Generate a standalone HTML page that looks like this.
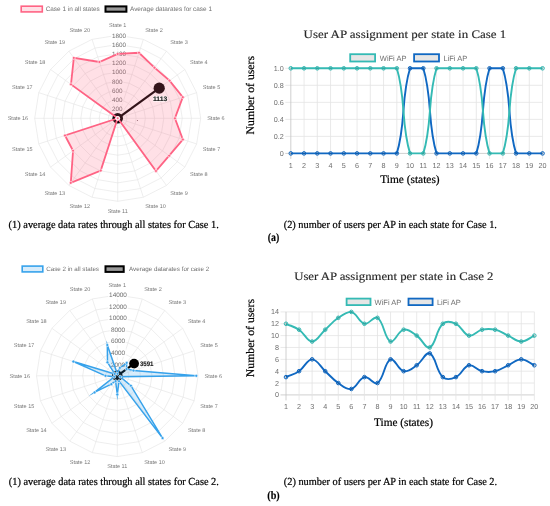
<!DOCTYPE html>
<html><head><meta charset="utf-8"><style>
html,body{margin:0;padding:0;background:#fff;}
body{width:550px;height:506px;overflow:hidden;font-family:"Liberation Sans", sans-serif;}
svg{display:block;will-change:transform;}
</style></head><body>
<svg width="550" height="506" viewBox="0 0 550 506" text-rendering="geometricPrecision">
<rect width="550" height="506" fill="#fff"/>
<polygon points="117.7,109.08 120.55,109.53 123.12,110.84 125.16,112.88 126.47,115.45 126.92,118.3 126.47,121.15 125.16,123.72 123.12,125.76 120.55,127.07 117.7,127.52 114.85,127.07 112.28,125.76 110.24,123.72 108.93,121.15 108.48,118.3 108.93,115.45 110.24,112.88 112.28,110.84 114.85,109.53" fill="none" stroke="#e3e3e3" stroke-width="0.6"/>
<polygon points="117.7,99.86 123.4,100.76 128.54,103.38 132.62,107.46 135.24,112.6 136.14,118.3 135.24,124 132.62,129.14 128.54,133.22 123.4,135.84 117.7,136.74 112,135.84 106.86,133.22 102.78,129.14 100.16,124 99.26,118.3 100.16,112.6 102.78,107.46 106.86,103.38 112,100.76" fill="none" stroke="#e3e3e3" stroke-width="0.6"/>
<polygon points="117.7,90.63 126.25,91.99 133.96,95.92 140.08,102.04 144.01,109.75 145.37,118.3 144.01,126.85 140.08,134.56 133.96,140.68 126.25,144.61 117.7,145.97 109.15,144.61 101.44,140.68 95.32,134.56 91.39,126.85 90.03,118.3 91.39,109.75 95.32,102.04 101.44,95.92 109.15,91.99" fill="none" stroke="#e3e3e3" stroke-width="0.6"/>
<polygon points="117.7,81.41 129.1,83.22 139.38,88.46 147.54,96.62 152.78,106.9 154.59,118.3 152.78,129.7 147.54,139.98 139.38,148.14 129.1,153.38 117.7,155.19 106.3,153.38 96.02,148.14 87.86,139.98 82.62,129.7 80.81,118.3 82.62,106.9 87.86,96.62 96.02,88.46 106.3,83.22" fill="none" stroke="#e3e3e3" stroke-width="0.6"/>
<polygon points="117.7,72.19 131.95,74.45 144.8,81 155,91.2 161.55,104.05 163.81,118.3 161.55,132.55 155,145.4 144.8,155.6 131.95,162.15 117.7,164.41 103.45,162.15 90.6,155.6 80.4,145.4 73.85,132.55 71.59,118.3 73.85,104.05 80.4,91.2 90.6,81 103.45,74.45" fill="none" stroke="#e3e3e3" stroke-width="0.6"/>
<polygon points="117.7,62.97 134.8,65.67 150.22,73.53 162.47,85.78 170.33,101.2 173.03,118.3 170.33,135.4 162.47,150.82 150.22,163.07 134.8,170.93 117.7,173.63 100.6,170.93 85.18,163.07 72.93,150.82 65.07,135.4 62.37,118.3 65.07,101.2 72.93,85.78 85.18,73.53 100.6,65.67" fill="none" stroke="#e3e3e3" stroke-width="0.6"/>
<polygon points="117.7,53.74 137.65,56.9 155.64,66.07 169.93,80.36 179.1,98.35 182.26,118.3 179.1,138.25 169.93,156.24 155.64,170.53 137.65,179.7 117.7,182.86 97.75,179.7 79.76,170.53 65.47,156.24 56.3,138.25 53.14,118.3 56.3,98.35 65.47,80.36 79.76,66.07 97.75,56.9" fill="none" stroke="#e3e3e3" stroke-width="0.6"/>
<polygon points="117.7,44.52 140.5,48.13 161.07,58.61 177.39,74.93 187.87,95.5 191.48,118.3 187.87,141.1 177.39,161.67 161.07,177.99 140.5,188.47 117.7,192.08 94.9,188.47 74.33,177.99 58.01,161.67 47.53,141.1 43.92,118.3 47.53,95.5 58.01,74.93 74.33,58.61 94.9,48.13" fill="none" stroke="#e3e3e3" stroke-width="0.6"/>
<polygon points="117.7,35.3 143.35,39.36 166.49,51.15 184.85,69.51 196.64,92.65 200.7,118.3 196.64,143.95 184.85,167.09 166.49,185.45 143.35,197.24 117.7,201.3 92.05,197.24 68.91,185.45 50.55,167.09 38.76,143.95 34.7,118.3 38.76,92.65 50.55,69.51 68.91,51.15 92.05,39.36" fill="none" stroke="#e3e3e3" stroke-width="0.6"/>
<line x1="117.7" y1="118.3" x2="117.7" y2="35.3" stroke="#e3e3e3" stroke-width="0.6"/>
<line x1="117.7" y1="118.3" x2="143.35" y2="39.36" stroke="#e3e3e3" stroke-width="0.6"/>
<line x1="117.7" y1="118.3" x2="166.49" y2="51.15" stroke="#e3e3e3" stroke-width="0.6"/>
<line x1="117.7" y1="118.3" x2="184.85" y2="69.51" stroke="#e3e3e3" stroke-width="0.6"/>
<line x1="117.7" y1="118.3" x2="196.64" y2="92.65" stroke="#e3e3e3" stroke-width="0.6"/>
<line x1="117.7" y1="118.3" x2="200.7" y2="118.3" stroke="#e3e3e3" stroke-width="0.6"/>
<line x1="117.7" y1="118.3" x2="196.64" y2="143.95" stroke="#e3e3e3" stroke-width="0.6"/>
<line x1="117.7" y1="118.3" x2="184.85" y2="167.09" stroke="#e3e3e3" stroke-width="0.6"/>
<line x1="117.7" y1="118.3" x2="166.49" y2="185.45" stroke="#e3e3e3" stroke-width="0.6"/>
<line x1="117.7" y1="118.3" x2="143.35" y2="197.24" stroke="#e3e3e3" stroke-width="0.6"/>
<line x1="117.7" y1="118.3" x2="117.7" y2="201.3" stroke="#e3e3e3" stroke-width="0.6"/>
<line x1="117.7" y1="118.3" x2="92.05" y2="197.24" stroke="#e3e3e3" stroke-width="0.6"/>
<line x1="117.7" y1="118.3" x2="68.91" y2="185.45" stroke="#e3e3e3" stroke-width="0.6"/>
<line x1="117.7" y1="118.3" x2="50.55" y2="167.09" stroke="#e3e3e3" stroke-width="0.6"/>
<line x1="117.7" y1="118.3" x2="38.76" y2="143.95" stroke="#e3e3e3" stroke-width="0.6"/>
<line x1="117.7" y1="118.3" x2="34.7" y2="118.3" stroke="#e3e3e3" stroke-width="0.6"/>
<line x1="117.7" y1="118.3" x2="38.76" y2="92.65" stroke="#e3e3e3" stroke-width="0.6"/>
<line x1="117.7" y1="118.3" x2="50.55" y2="69.51" stroke="#e3e3e3" stroke-width="0.6"/>
<line x1="117.7" y1="118.3" x2="68.91" y2="51.15" stroke="#e3e3e3" stroke-width="0.6"/>
<line x1="117.7" y1="118.3" x2="92.05" y2="39.36" stroke="#e3e3e3" stroke-width="0.6"/>
<rect x="110.8" y="104.8" width="12.79" height="8.55" fill="rgba(255,255,255,0.75)"/>
<text x="111.9" y="111.36" font-size="6.35" fill="#707070" text-anchor="start" font-family='"Liberation Sans", sans-serif' font-weight="normal">200</text>
<rect x="110.8" y="95.58" width="12.79" height="8.55" fill="rgba(255,255,255,0.75)"/>
<text x="111.9" y="102.14" font-size="6.35" fill="#707070" text-anchor="start" font-family='"Liberation Sans", sans-serif' font-weight="normal">400</text>
<rect x="110.8" y="86.36" width="12.79" height="8.55" fill="rgba(255,255,255,0.75)"/>
<text x="111.9" y="92.92" font-size="6.35" fill="#707070" text-anchor="start" font-family='"Liberation Sans", sans-serif' font-weight="normal">600</text>
<rect x="110.8" y="77.14" width="12.79" height="8.55" fill="rgba(255,255,255,0.75)"/>
<text x="111.9" y="83.7" font-size="6.35" fill="#707070" text-anchor="start" font-family='"Liberation Sans", sans-serif' font-weight="normal">800</text>
<rect x="110.8" y="67.91" width="16.32" height="8.55" fill="rgba(255,255,255,0.75)"/>
<text x="111.9" y="74.47" font-size="6.35" fill="#707070" text-anchor="start" font-family='"Liberation Sans", sans-serif' font-weight="normal">1000</text>
<rect x="110.8" y="58.69" width="16.32" height="8.55" fill="rgba(255,255,255,0.75)"/>
<text x="111.9" y="65.25" font-size="6.35" fill="#707070" text-anchor="start" font-family='"Liberation Sans", sans-serif' font-weight="normal">1200</text>
<rect x="110.8" y="49.47" width="16.32" height="8.55" fill="rgba(255,255,255,0.75)"/>
<text x="111.9" y="56.03" font-size="6.35" fill="#707070" text-anchor="start" font-family='"Liberation Sans", sans-serif' font-weight="normal">1400</text>
<rect x="110.8" y="40.25" width="16.32" height="8.55" fill="rgba(255,255,255,0.75)"/>
<text x="111.9" y="46.81" font-size="6.35" fill="#707070" text-anchor="start" font-family='"Liberation Sans", sans-serif' font-weight="normal">1600</text>
<rect x="110.8" y="31.02" width="16.32" height="8.55" fill="rgba(255,255,255,0.75)"/>
<text x="111.9" y="37.59" font-size="6.35" fill="#707070" text-anchor="start" font-family='"Liberation Sans", sans-serif' font-weight="normal">1800</text>
<text x="117.7" y="27.48" font-size="5.5" fill="#777" text-anchor="middle" font-family='"Liberation Sans", sans-serif' font-weight="normal">State 1</text>
<text x="145.36" y="31.76" font-size="5.5" fill="#777" text-anchor="start" font-family='"Liberation Sans", sans-serif' font-weight="normal">State 2</text>
<text x="170.31" y="44.47" font-size="5.5" fill="#777" text-anchor="start" font-family='"Liberation Sans", sans-serif' font-weight="normal">State 3</text>
<text x="190.11" y="64.27" font-size="5.5" fill="#777" text-anchor="start" font-family='"Liberation Sans", sans-serif' font-weight="normal">State 4</text>
<text x="202.82" y="89.22" font-size="5.5" fill="#777" text-anchor="start" font-family='"Liberation Sans", sans-serif' font-weight="normal">State 5</text>
<text x="207.2" y="120.28" font-size="5.5" fill="#777" text-anchor="start" font-family='"Liberation Sans", sans-serif' font-weight="normal">State 6</text>
<text x="202.82" y="150.74" font-size="5.5" fill="#777" text-anchor="start" font-family='"Liberation Sans", sans-serif' font-weight="normal">State 7</text>
<text x="190.11" y="175.69" font-size="5.5" fill="#777" text-anchor="start" font-family='"Liberation Sans", sans-serif' font-weight="normal">State 8</text>
<text x="170.31" y="195.49" font-size="5.5" fill="#777" text-anchor="start" font-family='"Liberation Sans", sans-serif' font-weight="normal">State 9</text>
<text x="145.36" y="208.2" font-size="5.5" fill="#777" text-anchor="start" font-family='"Liberation Sans", sans-serif' font-weight="normal">State 10</text>
<text x="117.7" y="212.58" font-size="5.5" fill="#777" text-anchor="middle" font-family='"Liberation Sans", sans-serif' font-weight="normal">State 11</text>
<text x="90.04" y="208.2" font-size="5.5" fill="#777" text-anchor="end" font-family='"Liberation Sans", sans-serif' font-weight="normal">State 12</text>
<text x="65.09" y="195.49" font-size="5.5" fill="#777" text-anchor="end" font-family='"Liberation Sans", sans-serif' font-weight="normal">State 13</text>
<text x="45.29" y="175.69" font-size="5.5" fill="#777" text-anchor="end" font-family='"Liberation Sans", sans-serif' font-weight="normal">State 14</text>
<text x="32.58" y="150.74" font-size="5.5" fill="#777" text-anchor="end" font-family='"Liberation Sans", sans-serif' font-weight="normal">State 15</text>
<text x="28.2" y="120.28" font-size="5.5" fill="#777" text-anchor="end" font-family='"Liberation Sans", sans-serif' font-weight="normal">State 16</text>
<text x="32.58" y="89.22" font-size="5.5" fill="#777" text-anchor="end" font-family='"Liberation Sans", sans-serif' font-weight="normal">State 17</text>
<text x="45.29" y="64.27" font-size="5.5" fill="#777" text-anchor="end" font-family='"Liberation Sans", sans-serif' font-weight="normal">State 18</text>
<text x="65.09" y="44.47" font-size="5.5" fill="#777" text-anchor="end" font-family='"Liberation Sans", sans-serif' font-weight="normal">State 19</text>
<text x="90.04" y="31.76" font-size="5.5" fill="#777" text-anchor="end" font-family='"Liberation Sans", sans-serif' font-weight="normal">State 20</text>
<line x1="117.7" y1="118.3" x2="159.22" y2="88.13" stroke="#000" stroke-width="2.2"/>
<circle cx="117.7" cy="118.3" r="5.3" fill="#000"/>
<circle cx="159.22" cy="88.13" r="5.6" fill="#000"/>
<polygon points="117.7,53.97 138.99,52.78 154.48,67.68 169.55,80.63 182.82,97.14 174.92,118.3 182.87,139.47 169.14,155.68 155.97,170.97 117.7,118.3 117.7,118.3 100.73,170.53 70.78,182.87 73.05,150.74 64.99,135.43 117.7,118.3 117.7,118.3 70.99,84.37 73.82,57.9 99.4,61.99" fill="rgba(255,99,132,0.2)" stroke="rgb(255,99,132)" stroke-width="1.8" stroke-linejoin="miter" stroke-miterlimit="10"/>
<circle cx="117.7" cy="53.97" r="1.5" fill="rgb(255,99,132)" stroke="#fff" stroke-width="0.6"/>
<circle cx="138.99" cy="52.78" r="1.5" fill="rgb(255,99,132)" stroke="#fff" stroke-width="0.6"/>
<circle cx="154.48" cy="67.68" r="1.5" fill="rgb(255,99,132)" stroke="#fff" stroke-width="0.6"/>
<circle cx="169.55" cy="80.63" r="1.5" fill="rgb(255,99,132)" stroke="#fff" stroke-width="0.6"/>
<circle cx="182.82" cy="97.14" r="1.5" fill="rgb(255,99,132)" stroke="#fff" stroke-width="0.6"/>
<circle cx="174.92" cy="118.3" r="1.5" fill="rgb(255,99,132)" stroke="#fff" stroke-width="0.6"/>
<circle cx="182.87" cy="139.47" r="1.5" fill="rgb(255,99,132)" stroke="#fff" stroke-width="0.6"/>
<circle cx="169.14" cy="155.68" r="1.5" fill="rgb(255,99,132)" stroke="#fff" stroke-width="0.6"/>
<circle cx="155.97" cy="170.97" r="1.5" fill="rgb(255,99,132)" stroke="#fff" stroke-width="0.6"/>
<circle cx="117.7" cy="118.3" r="1.5" fill="rgb(255,99,132)" stroke="#fff" stroke-width="0.6"/>
<circle cx="117.7" cy="118.3" r="1.5" fill="rgb(255,99,132)" stroke="#fff" stroke-width="0.6"/>
<circle cx="100.73" cy="170.53" r="1.5" fill="rgb(255,99,132)" stroke="#fff" stroke-width="0.6"/>
<circle cx="70.78" cy="182.87" r="1.5" fill="rgb(255,99,132)" stroke="#fff" stroke-width="0.6"/>
<circle cx="73.05" cy="150.74" r="1.5" fill="rgb(255,99,132)" stroke="#fff" stroke-width="0.6"/>
<circle cx="64.99" cy="135.43" r="1.5" fill="rgb(255,99,132)" stroke="#fff" stroke-width="0.6"/>
<circle cx="117.7" cy="118.3" r="1.5" fill="rgb(255,99,132)" stroke="#fff" stroke-width="0.6"/>
<circle cx="117.7" cy="118.3" r="1.5" fill="rgb(255,99,132)" stroke="#fff" stroke-width="0.6"/>
<circle cx="70.99" cy="84.37" r="1.5" fill="rgb(255,99,132)" stroke="#fff" stroke-width="0.6"/>
<circle cx="73.82" cy="57.9" r="1.5" fill="rgb(255,99,132)" stroke="#fff" stroke-width="0.6"/>
<circle cx="99.4" cy="61.99" r="1.5" fill="rgb(255,99,132)" stroke="#fff" stroke-width="0.6"/>
<circle cx="117.7" cy="118.3" r="2.4" fill="#fff0f3"/>
<circle cx="117.7" cy="118.3" r="1" fill="rgb(255,99,132)"/>
<text x="160.2" y="100.7" font-size="6.6" fill="rgba(255,255,255,0.8)" text-anchor="middle" font-family='"Liberation Sans", sans-serif' font-weight="bold" textLength="14.5" lengthAdjust="spacingAndGlyphs" stroke="rgba(255,255,255,0.8)" stroke-width="1">1113</text>
<text x="160.2" y="100.7" font-size="6.6" fill="#222" text-anchor="middle" font-family='"Liberation Sans", sans-serif' font-weight="bold" textLength="14.5" lengthAdjust="spacingAndGlyphs" stroke="#222" stroke-width="0.15">1113</text>
<rect x="21.2" y="6.2" width="21.1" height="5.7" fill="rgba(255,99,132,0.2)" stroke="rgb(255,99,132)" stroke-width="1.6"/>
<text x="45.7" y="11.35" font-size="6.4" fill="#707070" text-anchor="start" font-family='"Liberation Sans", sans-serif' font-weight="normal">Case 1 in all states</text>
<rect x="105.5" y="6.4" width="20.9" height="5.3" fill="#999" stroke="#000" stroke-width="2"/>
<text x="130" y="11.35" font-size="6.4" fill="#707070" text-anchor="start" font-family='"Liberation Sans", sans-serif' font-weight="normal">Average datarates for case 1</text>
<polygon points="117.3,364.26 120.87,364.82 124.08,366.46 126.64,369.02 128.28,372.23 128.84,375.8 128.28,379.37 126.64,382.58 124.08,385.14 120.87,386.78 117.3,387.34 113.73,386.78 110.52,385.14 107.96,382.58 106.32,379.37 105.76,375.8 106.32,372.23 107.96,369.02 110.52,366.46 113.73,364.82" fill="none" stroke="#e3e3e3" stroke-width="0.6"/>
<polygon points="117.3,352.71 124.43,353.84 130.87,357.12 135.98,362.23 139.26,368.67 140.39,375.8 139.26,382.93 135.98,389.37 130.87,394.48 124.43,397.76 117.3,398.89 110.17,397.76 103.73,394.48 98.62,389.37 95.34,382.93 94.21,375.8 95.34,368.67 98.62,362.23 103.73,357.12 110.17,353.84" fill="none" stroke="#e3e3e3" stroke-width="0.6"/>
<polygon points="117.3,341.17 128,342.87 137.65,347.78 145.32,355.45 150.23,365.1 151.93,375.8 150.23,386.5 145.32,396.15 137.65,403.82 128,408.73 117.3,410.43 106.6,408.73 96.95,403.82 89.28,396.15 84.37,386.5 82.67,375.8 84.37,365.1 89.28,355.45 96.95,347.78 106.6,342.87" fill="none" stroke="#e3e3e3" stroke-width="0.6"/>
<polygon points="117.3,329.63 131.57,331.89 144.44,338.45 154.65,348.66 161.21,361.53 163.47,375.8 161.21,390.07 154.65,402.94 144.44,413.15 131.57,419.71 117.3,421.97 103.03,419.71 90.16,413.15 79.95,402.94 73.39,390.07 71.13,375.8 73.39,361.53 79.95,348.66 90.16,338.45 103.03,331.89" fill="none" stroke="#e3e3e3" stroke-width="0.6"/>
<polygon points="117.3,318.09 135.13,320.91 151.22,329.11 163.99,341.88 172.19,357.97 175.01,375.8 172.19,393.63 163.99,409.72 151.22,422.49 135.13,430.69 117.3,433.51 99.47,430.69 83.38,422.49 70.61,409.72 62.41,393.63 59.59,375.8 62.41,357.97 70.61,341.88 83.38,329.11 99.47,320.91" fill="none" stroke="#e3e3e3" stroke-width="0.6"/>
<polygon points="117.3,306.54 138.7,309.93 158.01,319.77 173.33,335.09 183.17,354.4 186.56,375.8 183.17,397.2 173.33,416.51 158.01,431.83 138.7,441.67 117.3,445.06 95.9,441.67 76.59,431.83 61.27,416.51 51.43,397.2 48.04,375.8 51.43,354.4 61.27,335.09 76.59,319.77 95.9,309.93" fill="none" stroke="#e3e3e3" stroke-width="0.6"/>
<polygon points="117.3,295 142.27,298.95 164.79,310.43 182.67,328.31 194.15,350.83 198.1,375.8 194.15,400.77 182.67,423.29 164.79,441.17 142.27,452.65 117.3,456.6 92.33,452.65 69.81,441.17 51.93,423.29 40.45,400.77 36.5,375.8 40.45,350.83 51.93,328.31 69.81,310.43 92.33,298.95" fill="none" stroke="#e3e3e3" stroke-width="0.6"/>
<line x1="117.3" y1="375.8" x2="117.3" y2="295" stroke="#e3e3e3" stroke-width="0.6"/>
<line x1="117.3" y1="375.8" x2="142.27" y2="298.95" stroke="#e3e3e3" stroke-width="0.6"/>
<line x1="117.3" y1="375.8" x2="164.79" y2="310.43" stroke="#e3e3e3" stroke-width="0.6"/>
<line x1="117.3" y1="375.8" x2="182.67" y2="328.31" stroke="#e3e3e3" stroke-width="0.6"/>
<line x1="117.3" y1="375.8" x2="194.15" y2="350.83" stroke="#e3e3e3" stroke-width="0.6"/>
<line x1="117.3" y1="375.8" x2="198.1" y2="375.8" stroke="#e3e3e3" stroke-width="0.6"/>
<line x1="117.3" y1="375.8" x2="194.15" y2="400.77" stroke="#e3e3e3" stroke-width="0.6"/>
<line x1="117.3" y1="375.8" x2="182.67" y2="423.29" stroke="#e3e3e3" stroke-width="0.6"/>
<line x1="117.3" y1="375.8" x2="164.79" y2="441.17" stroke="#e3e3e3" stroke-width="0.6"/>
<line x1="117.3" y1="375.8" x2="142.27" y2="452.65" stroke="#e3e3e3" stroke-width="0.6"/>
<line x1="117.3" y1="375.8" x2="117.3" y2="456.6" stroke="#e3e3e3" stroke-width="0.6"/>
<line x1="117.3" y1="375.8" x2="92.33" y2="452.65" stroke="#e3e3e3" stroke-width="0.6"/>
<line x1="117.3" y1="375.8" x2="69.81" y2="441.17" stroke="#e3e3e3" stroke-width="0.6"/>
<line x1="117.3" y1="375.8" x2="51.93" y2="423.29" stroke="#e3e3e3" stroke-width="0.6"/>
<line x1="117.3" y1="375.8" x2="40.45" y2="400.77" stroke="#e3e3e3" stroke-width="0.6"/>
<line x1="117.3" y1="375.8" x2="36.5" y2="375.8" stroke="#e3e3e3" stroke-width="0.6"/>
<line x1="117.3" y1="375.8" x2="40.45" y2="350.83" stroke="#e3e3e3" stroke-width="0.6"/>
<line x1="117.3" y1="375.8" x2="51.93" y2="328.31" stroke="#e3e3e3" stroke-width="0.6"/>
<line x1="117.3" y1="375.8" x2="69.81" y2="310.43" stroke="#e3e3e3" stroke-width="0.6"/>
<line x1="117.3" y1="375.8" x2="92.33" y2="298.95" stroke="#e3e3e3" stroke-width="0.6"/>
<rect x="109.78" y="359.96" width="16.43" height="8.6" fill="rgba(255,255,255,0.75)"/>
<text x="118" y="366.56" font-size="6.4" fill="#707070" text-anchor="middle" font-family='"Liberation Sans", sans-serif' font-weight="normal">2000</text>
<rect x="109.78" y="348.41" width="16.43" height="8.6" fill="rgba(255,255,255,0.75)"/>
<text x="118" y="355.02" font-size="6.4" fill="#707070" text-anchor="middle" font-family='"Liberation Sans", sans-serif' font-weight="normal">4000</text>
<rect x="109.78" y="336.87" width="16.43" height="8.6" fill="rgba(255,255,255,0.75)"/>
<text x="118" y="343.48" font-size="6.4" fill="#707070" text-anchor="middle" font-family='"Liberation Sans", sans-serif' font-weight="normal">6000</text>
<rect x="109.78" y="325.33" width="16.43" height="8.6" fill="rgba(255,255,255,0.75)"/>
<text x="118" y="331.93" font-size="6.4" fill="#707070" text-anchor="middle" font-family='"Liberation Sans", sans-serif' font-weight="normal">8000</text>
<rect x="108" y="313.79" width="19.99" height="8.6" fill="rgba(255,255,255,0.75)"/>
<text x="118" y="320.39" font-size="6.4" fill="#707070" text-anchor="middle" font-family='"Liberation Sans", sans-serif' font-weight="normal">10000</text>
<rect x="108" y="302.24" width="19.99" height="8.6" fill="rgba(255,255,255,0.75)"/>
<text x="118" y="308.85" font-size="6.4" fill="#707070" text-anchor="middle" font-family='"Liberation Sans", sans-serif' font-weight="normal">12000</text>
<rect x="108" y="290.7" width="19.99" height="8.6" fill="rgba(255,255,255,0.75)"/>
<text x="118" y="297.3" font-size="6.4" fill="#707070" text-anchor="middle" font-family='"Liberation Sans", sans-serif' font-weight="normal">14000</text>
<text x="117.3" y="287.18" font-size="5.5" fill="#777" text-anchor="middle" font-family='"Liberation Sans", sans-serif' font-weight="normal">State 1</text>
<text x="144.28" y="291.35" font-size="5.5" fill="#777" text-anchor="start" font-family='"Liberation Sans", sans-serif' font-weight="normal">State 2</text>
<text x="168.61" y="303.75" font-size="5.5" fill="#777" text-anchor="start" font-family='"Liberation Sans", sans-serif' font-weight="normal">State 3</text>
<text x="187.93" y="323.07" font-size="5.5" fill="#777" text-anchor="start" font-family='"Liberation Sans", sans-serif' font-weight="normal">State 4</text>
<text x="200.33" y="347.4" font-size="5.5" fill="#777" text-anchor="start" font-family='"Liberation Sans", sans-serif' font-weight="normal">State 5</text>
<text x="204.6" y="377.78" font-size="5.5" fill="#777" text-anchor="start" font-family='"Liberation Sans", sans-serif' font-weight="normal">State 6</text>
<text x="200.33" y="407.56" font-size="5.5" fill="#777" text-anchor="start" font-family='"Liberation Sans", sans-serif' font-weight="normal">State 7</text>
<text x="187.93" y="431.89" font-size="5.5" fill="#777" text-anchor="start" font-family='"Liberation Sans", sans-serif' font-weight="normal">State 8</text>
<text x="168.61" y="451.21" font-size="5.5" fill="#777" text-anchor="start" font-family='"Liberation Sans", sans-serif' font-weight="normal">State 9</text>
<text x="144.28" y="463.61" font-size="5.5" fill="#777" text-anchor="start" font-family='"Liberation Sans", sans-serif' font-weight="normal">State 10</text>
<text x="117.3" y="467.88" font-size="5.5" fill="#777" text-anchor="middle" font-family='"Liberation Sans", sans-serif' font-weight="normal">State 11</text>
<text x="90.32" y="463.61" font-size="5.5" fill="#777" text-anchor="end" font-family='"Liberation Sans", sans-serif' font-weight="normal">State 12</text>
<text x="65.99" y="451.21" font-size="5.5" fill="#777" text-anchor="end" font-family='"Liberation Sans", sans-serif' font-weight="normal">State 13</text>
<text x="46.67" y="431.89" font-size="5.5" fill="#777" text-anchor="end" font-family='"Liberation Sans", sans-serif' font-weight="normal">State 14</text>
<text x="34.27" y="407.56" font-size="5.5" fill="#777" text-anchor="end" font-family='"Liberation Sans", sans-serif' font-weight="normal">State 15</text>
<text x="30" y="377.78" font-size="5.5" fill="#777" text-anchor="end" font-family='"Liberation Sans", sans-serif' font-weight="normal">State 16</text>
<text x="34.27" y="347.4" font-size="5.5" fill="#777" text-anchor="end" font-family='"Liberation Sans", sans-serif' font-weight="normal">State 17</text>
<text x="46.67" y="323.07" font-size="5.5" fill="#777" text-anchor="end" font-family='"Liberation Sans", sans-serif' font-weight="normal">State 18</text>
<text x="65.99" y="303.75" font-size="5.5" fill="#777" text-anchor="end" font-family='"Liberation Sans", sans-serif' font-weight="normal">State 19</text>
<text x="90.32" y="291.35" font-size="5.5" fill="#777" text-anchor="end" font-family='"Liberation Sans", sans-serif' font-weight="normal">State 20</text>
<line x1="117.3" y1="375.8" x2="134.07" y2="363.62" stroke="#000" stroke-width="2.2"/>
<circle cx="117.3" cy="375.8" r="5.3" fill="#000"/>
<circle cx="134.07" cy="363.62" r="4.9" fill="#000"/>
<polygon points="117.3,373.8 119.86,367.91 126.7,362.86 126.6,369.04 133.47,370.55 196.3,375.8 120.25,376.76 130.89,385.67 162.56,438.09 119.03,381.13 117.3,394.5 115.57,381.13 111.25,384.13 94.49,392.38 114.26,376.79 105.5,375.8 73.36,361.52 114.71,373.92 107.48,362.29 107.29,344.99" fill="rgba(54,162,235,0.2)" stroke="rgb(54,162,235)" stroke-width="1.45" stroke-linejoin="miter" stroke-miterlimit="10"/>
<circle cx="117.3" cy="373.8" r="1.5" fill="rgb(54,162,235)" stroke="#fff" stroke-width="0.6"/>
<circle cx="119.86" cy="367.91" r="1.5" fill="rgb(54,162,235)" stroke="#fff" stroke-width="0.6"/>
<circle cx="126.7" cy="362.86" r="1.5" fill="rgb(54,162,235)" stroke="#fff" stroke-width="0.6"/>
<circle cx="126.6" cy="369.04" r="1.5" fill="rgb(54,162,235)" stroke="#fff" stroke-width="0.6"/>
<circle cx="133.47" cy="370.55" r="1.5" fill="rgb(54,162,235)" stroke="#fff" stroke-width="0.6"/>
<circle cx="196.3" cy="375.8" r="1.5" fill="rgb(54,162,235)" stroke="#fff" stroke-width="0.6"/>
<circle cx="120.25" cy="376.76" r="1.5" fill="rgb(54,162,235)" stroke="#fff" stroke-width="0.6"/>
<circle cx="130.89" cy="385.67" r="1.5" fill="rgb(54,162,235)" stroke="#fff" stroke-width="0.6"/>
<circle cx="162.56" cy="438.09" r="1.5" fill="rgb(54,162,235)" stroke="#fff" stroke-width="0.6"/>
<circle cx="119.03" cy="381.13" r="1.5" fill="rgb(54,162,235)" stroke="#fff" stroke-width="0.6"/>
<circle cx="117.3" cy="394.5" r="1.5" fill="rgb(54,162,235)" stroke="#fff" stroke-width="0.6"/>
<circle cx="115.57" cy="381.13" r="1.5" fill="rgb(54,162,235)" stroke="#fff" stroke-width="0.6"/>
<circle cx="111.25" cy="384.13" r="1.5" fill="rgb(54,162,235)" stroke="#fff" stroke-width="0.6"/>
<circle cx="94.49" cy="392.38" r="1.5" fill="rgb(54,162,235)" stroke="#fff" stroke-width="0.6"/>
<circle cx="114.26" cy="376.79" r="1.5" fill="rgb(54,162,235)" stroke="#fff" stroke-width="0.6"/>
<circle cx="105.5" cy="375.8" r="1.5" fill="rgb(54,162,235)" stroke="#fff" stroke-width="0.6"/>
<circle cx="73.36" cy="361.52" r="1.5" fill="rgb(54,162,235)" stroke="#fff" stroke-width="0.6"/>
<circle cx="114.71" cy="373.92" r="1.5" fill="rgb(54,162,235)" stroke="#fff" stroke-width="0.6"/>
<circle cx="107.48" cy="362.29" r="1.5" fill="rgb(54,162,235)" stroke="#fff" stroke-width="0.6"/>
<circle cx="107.29" cy="344.99" r="1.5" fill="rgb(54,162,235)" stroke="#fff" stroke-width="0.6"/>
<text x="139.9" y="366.1" font-size="6.6" fill="rgba(255,255,255,0.8)" text-anchor="start" font-family='"Liberation Sans", sans-serif' font-weight="bold" textLength="13.5" lengthAdjust="spacingAndGlyphs" stroke="rgba(255,255,255,0.8)" stroke-width="1">3591</text>
<text x="139.9" y="366.1" font-size="6.6" fill="#222" text-anchor="start" font-family='"Liberation Sans", sans-serif' font-weight="bold" textLength="13.5" lengthAdjust="spacingAndGlyphs" stroke="#222" stroke-width="0.15">3591</text>
<rect x="22.2" y="266.1" width="20.6" height="5.8" fill="rgba(54,162,235,0.2)" stroke="rgb(54,162,235)" stroke-width="1.6"/>
<text x="46.2" y="271.25" font-size="6.25" fill="#707070" text-anchor="start" font-family='"Liberation Sans", sans-serif' font-weight="normal">Case 2 in all states</text>
<rect x="105.5" y="266.3" width="18.2" height="5.6" fill="#999" stroke="#000" stroke-width="2"/>
<text x="129" y="271.35" font-size="6.25" fill="#707070" text-anchor="start" font-family='"Liberation Sans", sans-serif' font-weight="normal">Average datarates for case 2</text>
<line x1="285.3" y1="153.4" x2="542.55" y2="153.4" stroke="#c4c4c4" stroke-width="0.8"/>
<text x="283.8" y="155.99" font-size="7.2" fill="#707070" text-anchor="end" font-family='"Liberation Sans", sans-serif' font-weight="normal">0</text>
<line x1="285.3" y1="136.38" x2="542.55" y2="136.38" stroke="#e3e3e3" stroke-width="0.8"/>
<text x="283.8" y="138.97" font-size="7.2" fill="#707070" text-anchor="end" font-family='"Liberation Sans", sans-serif' font-weight="normal">0.2</text>
<line x1="285.3" y1="119.36" x2="542.55" y2="119.36" stroke="#e3e3e3" stroke-width="0.8"/>
<text x="283.8" y="121.95" font-size="7.2" fill="#707070" text-anchor="end" font-family='"Liberation Sans", sans-serif' font-weight="normal">0.4</text>
<line x1="285.3" y1="102.34" x2="542.55" y2="102.34" stroke="#e3e3e3" stroke-width="0.8"/>
<text x="283.8" y="104.93" font-size="7.2" fill="#707070" text-anchor="end" font-family='"Liberation Sans", sans-serif' font-weight="normal">0.6</text>
<line x1="285.3" y1="85.32" x2="542.55" y2="85.32" stroke="#e3e3e3" stroke-width="0.8"/>
<text x="283.8" y="87.91" font-size="7.2" fill="#707070" text-anchor="end" font-family='"Liberation Sans", sans-serif' font-weight="normal">0.8</text>
<line x1="285.3" y1="68.3" x2="542.55" y2="68.3" stroke="#e3e3e3" stroke-width="0.8"/>
<text x="283.8" y="70.89" font-size="7.2" fill="#707070" text-anchor="end" font-family='"Liberation Sans", sans-serif' font-weight="normal">1.0</text>
<line x1="290.8" y1="68.3" x2="290.8" y2="158.9" stroke="#c4c4c4" stroke-width="0.8"/>
<text x="290.8" y="167.89" font-size="7.2" fill="#707070" text-anchor="middle" font-family='"Liberation Sans", sans-serif' font-weight="normal">1</text>
<line x1="304.05" y1="68.3" x2="304.05" y2="158.9" stroke="#e3e3e3" stroke-width="0.8"/>
<text x="304.05" y="167.89" font-size="7.2" fill="#707070" text-anchor="middle" font-family='"Liberation Sans", sans-serif' font-weight="normal">2</text>
<line x1="317.3" y1="68.3" x2="317.3" y2="158.9" stroke="#e3e3e3" stroke-width="0.8"/>
<text x="317.3" y="167.89" font-size="7.2" fill="#707070" text-anchor="middle" font-family='"Liberation Sans", sans-serif' font-weight="normal">3</text>
<line x1="330.55" y1="68.3" x2="330.55" y2="158.9" stroke="#e3e3e3" stroke-width="0.8"/>
<text x="330.55" y="167.89" font-size="7.2" fill="#707070" text-anchor="middle" font-family='"Liberation Sans", sans-serif' font-weight="normal">4</text>
<line x1="343.8" y1="68.3" x2="343.8" y2="158.9" stroke="#e3e3e3" stroke-width="0.8"/>
<text x="343.8" y="167.89" font-size="7.2" fill="#707070" text-anchor="middle" font-family='"Liberation Sans", sans-serif' font-weight="normal">5</text>
<line x1="357.05" y1="68.3" x2="357.05" y2="158.9" stroke="#e3e3e3" stroke-width="0.8"/>
<text x="357.05" y="167.89" font-size="7.2" fill="#707070" text-anchor="middle" font-family='"Liberation Sans", sans-serif' font-weight="normal">6</text>
<line x1="370.3" y1="68.3" x2="370.3" y2="158.9" stroke="#e3e3e3" stroke-width="0.8"/>
<text x="370.3" y="167.89" font-size="7.2" fill="#707070" text-anchor="middle" font-family='"Liberation Sans", sans-serif' font-weight="normal">7</text>
<line x1="383.55" y1="68.3" x2="383.55" y2="158.9" stroke="#e3e3e3" stroke-width="0.8"/>
<text x="383.55" y="167.89" font-size="7.2" fill="#707070" text-anchor="middle" font-family='"Liberation Sans", sans-serif' font-weight="normal">8</text>
<line x1="396.8" y1="68.3" x2="396.8" y2="158.9" stroke="#e3e3e3" stroke-width="0.8"/>
<text x="396.8" y="167.89" font-size="7.2" fill="#707070" text-anchor="middle" font-family='"Liberation Sans", sans-serif' font-weight="normal">9</text>
<line x1="410.05" y1="68.3" x2="410.05" y2="158.9" stroke="#e3e3e3" stroke-width="0.8"/>
<text x="410.05" y="167.89" font-size="7.2" fill="#707070" text-anchor="middle" font-family='"Liberation Sans", sans-serif' font-weight="normal">10</text>
<line x1="423.3" y1="68.3" x2="423.3" y2="158.9" stroke="#e3e3e3" stroke-width="0.8"/>
<text x="423.3" y="167.89" font-size="7.2" fill="#707070" text-anchor="middle" font-family='"Liberation Sans", sans-serif' font-weight="normal">11</text>
<line x1="436.55" y1="68.3" x2="436.55" y2="158.9" stroke="#e3e3e3" stroke-width="0.8"/>
<text x="436.55" y="167.89" font-size="7.2" fill="#707070" text-anchor="middle" font-family='"Liberation Sans", sans-serif' font-weight="normal">12</text>
<line x1="449.8" y1="68.3" x2="449.8" y2="158.9" stroke="#e3e3e3" stroke-width="0.8"/>
<text x="449.8" y="167.89" font-size="7.2" fill="#707070" text-anchor="middle" font-family='"Liberation Sans", sans-serif' font-weight="normal">13</text>
<line x1="463.05" y1="68.3" x2="463.05" y2="158.9" stroke="#e3e3e3" stroke-width="0.8"/>
<text x="463.05" y="167.89" font-size="7.2" fill="#707070" text-anchor="middle" font-family='"Liberation Sans", sans-serif' font-weight="normal">14</text>
<line x1="476.3" y1="68.3" x2="476.3" y2="158.9" stroke="#e3e3e3" stroke-width="0.8"/>
<text x="476.3" y="167.89" font-size="7.2" fill="#707070" text-anchor="middle" font-family='"Liberation Sans", sans-serif' font-weight="normal">15</text>
<line x1="489.55" y1="68.3" x2="489.55" y2="158.9" stroke="#e3e3e3" stroke-width="0.8"/>
<text x="489.55" y="167.89" font-size="7.2" fill="#707070" text-anchor="middle" font-family='"Liberation Sans", sans-serif' font-weight="normal">16</text>
<line x1="502.8" y1="68.3" x2="502.8" y2="158.9" stroke="#e3e3e3" stroke-width="0.8"/>
<text x="502.8" y="167.89" font-size="7.2" fill="#707070" text-anchor="middle" font-family='"Liberation Sans", sans-serif' font-weight="normal">17</text>
<line x1="516.05" y1="68.3" x2="516.05" y2="158.9" stroke="#e3e3e3" stroke-width="0.8"/>
<text x="516.05" y="167.89" font-size="7.2" fill="#707070" text-anchor="middle" font-family='"Liberation Sans", sans-serif' font-weight="normal">18</text>
<line x1="529.3" y1="68.3" x2="529.3" y2="158.9" stroke="#e3e3e3" stroke-width="0.8"/>
<text x="529.3" y="167.89" font-size="7.2" fill="#707070" text-anchor="middle" font-family='"Liberation Sans", sans-serif' font-weight="normal">19</text>
<line x1="542.55" y1="68.3" x2="542.55" y2="158.9" stroke="#e3e3e3" stroke-width="0.8"/>
<text x="542.55" y="167.89" font-size="7.2" fill="#707070" text-anchor="middle" font-family='"Liberation Sans", sans-serif' font-weight="normal">20</text>
<path d="M290.8,153.4 C296.1,153.4 298.75,153.4 304.05,153.4 C309.35,153.4 312,153.4 317.3,153.4 C322.6,153.4 325.25,153.4 330.55,153.4 C335.85,153.4 338.5,153.4 343.8,153.4 C349.1,153.4 351.75,153.4 357.05,153.4 C362.35,153.4 365,153.4 370.3,153.4 C375.6,153.4 378.25,153.4 383.55,153.4 C388.85,153.4 395.39,153.4 396.8,153.4 C405.99,123.9 400.86,97.8 410.05,68.3 C411.46,68.3 421.89,68.3 423.3,68.3 C432.49,97.8 427.36,123.9 436.55,153.4 C437.96,153.4 444.5,153.4 449.8,153.4 C455.1,153.4 457.75,153.4 463.05,153.4 C468.35,153.4 474.89,153.4 476.3,153.4 C485.49,123.9 480.36,97.8 489.55,68.3 C490.96,68.3 501.39,68.3 502.8,68.3 C511.99,97.8 506.86,123.9 516.05,153.4 C517.46,153.4 524,153.4 529.3,153.4 C534.6,153.4 537.25,153.4 542.55,153.4" fill="none" stroke="rgb(16,104,194)" stroke-width="1.9"/>
<circle cx="290.8" cy="153.4" r="1.8" fill="rgba(0,0,0,0.1)" stroke="rgb(16,104,194)" stroke-width="1"/>
<circle cx="304.05" cy="153.4" r="1.8" fill="rgba(0,0,0,0.1)" stroke="rgb(16,104,194)" stroke-width="1"/>
<circle cx="317.3" cy="153.4" r="1.8" fill="rgba(0,0,0,0.1)" stroke="rgb(16,104,194)" stroke-width="1"/>
<circle cx="330.55" cy="153.4" r="1.8" fill="rgba(0,0,0,0.1)" stroke="rgb(16,104,194)" stroke-width="1"/>
<circle cx="343.8" cy="153.4" r="1.8" fill="rgba(0,0,0,0.1)" stroke="rgb(16,104,194)" stroke-width="1"/>
<circle cx="357.05" cy="153.4" r="1.8" fill="rgba(0,0,0,0.1)" stroke="rgb(16,104,194)" stroke-width="1"/>
<circle cx="370.3" cy="153.4" r="1.8" fill="rgba(0,0,0,0.1)" stroke="rgb(16,104,194)" stroke-width="1"/>
<circle cx="383.55" cy="153.4" r="1.8" fill="rgba(0,0,0,0.1)" stroke="rgb(16,104,194)" stroke-width="1"/>
<circle cx="396.8" cy="153.4" r="1.8" fill="rgba(0,0,0,0.1)" stroke="rgb(16,104,194)" stroke-width="1"/>
<circle cx="410.05" cy="68.3" r="1.8" fill="rgba(0,0,0,0.1)" stroke="rgb(16,104,194)" stroke-width="1"/>
<circle cx="423.3" cy="68.3" r="1.8" fill="rgba(0,0,0,0.1)" stroke="rgb(16,104,194)" stroke-width="1"/>
<circle cx="436.55" cy="153.4" r="1.8" fill="rgba(0,0,0,0.1)" stroke="rgb(16,104,194)" stroke-width="1"/>
<circle cx="449.8" cy="153.4" r="1.8" fill="rgba(0,0,0,0.1)" stroke="rgb(16,104,194)" stroke-width="1"/>
<circle cx="463.05" cy="153.4" r="1.8" fill="rgba(0,0,0,0.1)" stroke="rgb(16,104,194)" stroke-width="1"/>
<circle cx="476.3" cy="153.4" r="1.8" fill="rgba(0,0,0,0.1)" stroke="rgb(16,104,194)" stroke-width="1"/>
<circle cx="489.55" cy="68.3" r="1.8" fill="rgba(0,0,0,0.1)" stroke="rgb(16,104,194)" stroke-width="1"/>
<circle cx="502.8" cy="68.3" r="1.8" fill="rgba(0,0,0,0.1)" stroke="rgb(16,104,194)" stroke-width="1"/>
<circle cx="516.05" cy="153.4" r="1.8" fill="rgba(0,0,0,0.1)" stroke="rgb(16,104,194)" stroke-width="1"/>
<circle cx="529.3" cy="153.4" r="1.8" fill="rgba(0,0,0,0.1)" stroke="rgb(16,104,194)" stroke-width="1"/>
<circle cx="542.55" cy="153.4" r="1.8" fill="rgba(0,0,0,0.1)" stroke="rgb(16,104,194)" stroke-width="1"/>
<path d="M290.8,68.3 C296.1,68.3 298.75,68.3 304.05,68.3 C309.35,68.3 312,68.3 317.3,68.3 C322.6,68.3 325.25,68.3 330.55,68.3 C335.85,68.3 338.5,68.3 343.8,68.3 C349.1,68.3 351.75,68.3 357.05,68.3 C362.35,68.3 365,68.3 370.3,68.3 C375.6,68.3 378.25,68.3 383.55,68.3 C388.85,68.3 395.39,68.3 396.8,68.3 C405.99,97.8 400.86,123.9 410.05,153.4 C411.46,153.4 421.89,153.4 423.3,153.4 C432.49,123.9 427.36,97.8 436.55,68.3 C437.96,68.3 444.5,68.3 449.8,68.3 C455.1,68.3 457.75,68.3 463.05,68.3 C468.35,68.3 474.89,68.3 476.3,68.3 C485.49,97.8 480.36,123.9 489.55,153.4 C490.96,153.4 501.39,153.4 502.8,153.4 C511.99,123.9 506.86,97.8 516.05,68.3 C517.46,68.3 524,68.3 529.3,68.3 C534.6,68.3 537.25,68.3 542.55,68.3" fill="none" stroke="rgb(52,186,180)" stroke-width="1.9"/>
<circle cx="290.8" cy="68.3" r="1.8" fill="rgba(0,0,0,0.1)" stroke="rgb(52,186,180)" stroke-width="1"/>
<circle cx="304.05" cy="68.3" r="1.8" fill="rgba(0,0,0,0.1)" stroke="rgb(52,186,180)" stroke-width="1"/>
<circle cx="317.3" cy="68.3" r="1.8" fill="rgba(0,0,0,0.1)" stroke="rgb(52,186,180)" stroke-width="1"/>
<circle cx="330.55" cy="68.3" r="1.8" fill="rgba(0,0,0,0.1)" stroke="rgb(52,186,180)" stroke-width="1"/>
<circle cx="343.8" cy="68.3" r="1.8" fill="rgba(0,0,0,0.1)" stroke="rgb(52,186,180)" stroke-width="1"/>
<circle cx="357.05" cy="68.3" r="1.8" fill="rgba(0,0,0,0.1)" stroke="rgb(52,186,180)" stroke-width="1"/>
<circle cx="370.3" cy="68.3" r="1.8" fill="rgba(0,0,0,0.1)" stroke="rgb(52,186,180)" stroke-width="1"/>
<circle cx="383.55" cy="68.3" r="1.8" fill="rgba(0,0,0,0.1)" stroke="rgb(52,186,180)" stroke-width="1"/>
<circle cx="396.8" cy="68.3" r="1.8" fill="rgba(0,0,0,0.1)" stroke="rgb(52,186,180)" stroke-width="1"/>
<circle cx="410.05" cy="153.4" r="1.8" fill="rgba(0,0,0,0.1)" stroke="rgb(52,186,180)" stroke-width="1"/>
<circle cx="423.3" cy="153.4" r="1.8" fill="rgba(0,0,0,0.1)" stroke="rgb(52,186,180)" stroke-width="1"/>
<circle cx="436.55" cy="68.3" r="1.8" fill="rgba(0,0,0,0.1)" stroke="rgb(52,186,180)" stroke-width="1"/>
<circle cx="449.8" cy="68.3" r="1.8" fill="rgba(0,0,0,0.1)" stroke="rgb(52,186,180)" stroke-width="1"/>
<circle cx="463.05" cy="68.3" r="1.8" fill="rgba(0,0,0,0.1)" stroke="rgb(52,186,180)" stroke-width="1"/>
<circle cx="476.3" cy="68.3" r="1.8" fill="rgba(0,0,0,0.1)" stroke="rgb(52,186,180)" stroke-width="1"/>
<circle cx="489.55" cy="153.4" r="1.8" fill="rgba(0,0,0,0.1)" stroke="rgb(52,186,180)" stroke-width="1"/>
<circle cx="502.8" cy="153.4" r="1.8" fill="rgba(0,0,0,0.1)" stroke="rgb(52,186,180)" stroke-width="1"/>
<circle cx="516.05" cy="68.3" r="1.8" fill="rgba(0,0,0,0.1)" stroke="rgb(52,186,180)" stroke-width="1"/>
<circle cx="529.3" cy="68.3" r="1.8" fill="rgba(0,0,0,0.1)" stroke="rgb(52,186,180)" stroke-width="1"/>
<circle cx="542.55" cy="68.3" r="1.8" fill="rgba(0,0,0,0.1)" stroke="rgb(52,186,180)" stroke-width="1"/>
<text x="303.6" y="37.5" font-size="11.5" fill="#282828" text-anchor="start" font-family='"Liberation Serif", serif' font-weight="normal" textLength="202.7" lengthAdjust="spacingAndGlyphs" stroke="#282828" stroke-width="0.15">User AP assignment per state in Case 1</text>
<text x="0" y="0" font-size="11.5" fill="#000" stroke="#000" stroke-width="0.22" text-anchor="middle" font-family='"Liberation Serif", serif' textLength="78.5" lengthAdjust="spacingAndGlyphs" transform="translate(253.6,95.15) rotate(-90)">Number of users</text>
<text x="380.3" y="182.9" font-size="11.5" fill="#000" text-anchor="start" font-family='"Liberation Serif", serif' font-weight="normal" textLength="59.3" lengthAdjust="spacingAndGlyphs" stroke="#000" stroke-width="0.22">Time (states)</text>
<rect x="350.2" y="54.2" width="24.9" height="7.3" fill="#e6e6e6" stroke="rgb(52,186,180)" stroke-width="1.8"/>
<text x="379.8" y="60.55" font-size="7.5" fill="#707070" text-anchor="start" font-family='"Liberation Sans", sans-serif' font-weight="normal">WiFi AP</text>
<rect x="414.1" y="54.2" width="24.9" height="7.3" fill="#e6e6e6" stroke="rgb(16,104,194)" stroke-width="1.8"/>
<text x="443.4" y="60.55" font-size="7.5" fill="#707070" text-anchor="start" font-family='"Liberation Sans", sans-serif' font-weight="normal">LiFi AP</text>
<line x1="280.5" y1="394.9" x2="534.33" y2="394.9" stroke="#c4c4c4" stroke-width="0.8"/>
<text x="279" y="397.49" font-size="7.2" fill="#707070" text-anchor="end" font-family='"Liberation Sans", sans-serif' font-weight="normal">0</text>
<line x1="280.5" y1="383.04" x2="534.33" y2="383.04" stroke="#e3e3e3" stroke-width="0.8"/>
<text x="279" y="385.63" font-size="7.2" fill="#707070" text-anchor="end" font-family='"Liberation Sans", sans-serif' font-weight="normal">2</text>
<line x1="280.5" y1="371.19" x2="534.33" y2="371.19" stroke="#e3e3e3" stroke-width="0.8"/>
<text x="279" y="373.78" font-size="7.2" fill="#707070" text-anchor="end" font-family='"Liberation Sans", sans-serif' font-weight="normal">4</text>
<line x1="280.5" y1="359.33" x2="534.33" y2="359.33" stroke="#e3e3e3" stroke-width="0.8"/>
<text x="279" y="361.92" font-size="7.2" fill="#707070" text-anchor="end" font-family='"Liberation Sans", sans-serif' font-weight="normal">6</text>
<line x1="280.5" y1="347.47" x2="534.33" y2="347.47" stroke="#e3e3e3" stroke-width="0.8"/>
<text x="279" y="350.06" font-size="7.2" fill="#707070" text-anchor="end" font-family='"Liberation Sans", sans-serif' font-weight="normal">8</text>
<line x1="280.5" y1="335.61" x2="534.33" y2="335.61" stroke="#e3e3e3" stroke-width="0.8"/>
<text x="279" y="338.21" font-size="7.2" fill="#707070" text-anchor="end" font-family='"Liberation Sans", sans-serif' font-weight="normal">10</text>
<line x1="280.5" y1="323.76" x2="534.33" y2="323.76" stroke="#e3e3e3" stroke-width="0.8"/>
<text x="279" y="326.35" font-size="7.2" fill="#707070" text-anchor="end" font-family='"Liberation Sans", sans-serif' font-weight="normal">12</text>
<line x1="280.5" y1="311.9" x2="534.33" y2="311.9" stroke="#e3e3e3" stroke-width="0.8"/>
<text x="279" y="314.49" font-size="7.2" fill="#707070" text-anchor="end" font-family='"Liberation Sans", sans-serif' font-weight="normal">14</text>
<line x1="286" y1="311.9" x2="286" y2="400.4" stroke="#c4c4c4" stroke-width="0.8"/>
<text x="286" y="409.39" font-size="7.2" fill="#707070" text-anchor="middle" font-family='"Liberation Sans", sans-serif' font-weight="normal">1</text>
<line x1="299.07" y1="311.9" x2="299.07" y2="400.4" stroke="#e3e3e3" stroke-width="0.8"/>
<text x="299.07" y="409.39" font-size="7.2" fill="#707070" text-anchor="middle" font-family='"Liberation Sans", sans-serif' font-weight="normal">2</text>
<line x1="312.14" y1="311.9" x2="312.14" y2="400.4" stroke="#e3e3e3" stroke-width="0.8"/>
<text x="312.14" y="409.39" font-size="7.2" fill="#707070" text-anchor="middle" font-family='"Liberation Sans", sans-serif' font-weight="normal">3</text>
<line x1="325.21" y1="311.9" x2="325.21" y2="400.4" stroke="#e3e3e3" stroke-width="0.8"/>
<text x="325.21" y="409.39" font-size="7.2" fill="#707070" text-anchor="middle" font-family='"Liberation Sans", sans-serif' font-weight="normal">4</text>
<line x1="338.28" y1="311.9" x2="338.28" y2="400.4" stroke="#e3e3e3" stroke-width="0.8"/>
<text x="338.28" y="409.39" font-size="7.2" fill="#707070" text-anchor="middle" font-family='"Liberation Sans", sans-serif' font-weight="normal">5</text>
<line x1="351.35" y1="311.9" x2="351.35" y2="400.4" stroke="#e3e3e3" stroke-width="0.8"/>
<text x="351.35" y="409.39" font-size="7.2" fill="#707070" text-anchor="middle" font-family='"Liberation Sans", sans-serif' font-weight="normal">6</text>
<line x1="364.42" y1="311.9" x2="364.42" y2="400.4" stroke="#e3e3e3" stroke-width="0.8"/>
<text x="364.42" y="409.39" font-size="7.2" fill="#707070" text-anchor="middle" font-family='"Liberation Sans", sans-serif' font-weight="normal">7</text>
<line x1="377.49" y1="311.9" x2="377.49" y2="400.4" stroke="#e3e3e3" stroke-width="0.8"/>
<text x="377.49" y="409.39" font-size="7.2" fill="#707070" text-anchor="middle" font-family='"Liberation Sans", sans-serif' font-weight="normal">8</text>
<line x1="390.56" y1="311.9" x2="390.56" y2="400.4" stroke="#e3e3e3" stroke-width="0.8"/>
<text x="390.56" y="409.39" font-size="7.2" fill="#707070" text-anchor="middle" font-family='"Liberation Sans", sans-serif' font-weight="normal">9</text>
<line x1="403.63" y1="311.9" x2="403.63" y2="400.4" stroke="#e3e3e3" stroke-width="0.8"/>
<text x="403.63" y="409.39" font-size="7.2" fill="#707070" text-anchor="middle" font-family='"Liberation Sans", sans-serif' font-weight="normal">10</text>
<line x1="416.7" y1="311.9" x2="416.7" y2="400.4" stroke="#e3e3e3" stroke-width="0.8"/>
<text x="416.7" y="409.39" font-size="7.2" fill="#707070" text-anchor="middle" font-family='"Liberation Sans", sans-serif' font-weight="normal">11</text>
<line x1="429.77" y1="311.9" x2="429.77" y2="400.4" stroke="#e3e3e3" stroke-width="0.8"/>
<text x="429.77" y="409.39" font-size="7.2" fill="#707070" text-anchor="middle" font-family='"Liberation Sans", sans-serif' font-weight="normal">12</text>
<line x1="442.84" y1="311.9" x2="442.84" y2="400.4" stroke="#e3e3e3" stroke-width="0.8"/>
<text x="442.84" y="409.39" font-size="7.2" fill="#707070" text-anchor="middle" font-family='"Liberation Sans", sans-serif' font-weight="normal">13</text>
<line x1="455.91" y1="311.9" x2="455.91" y2="400.4" stroke="#e3e3e3" stroke-width="0.8"/>
<text x="455.91" y="409.39" font-size="7.2" fill="#707070" text-anchor="middle" font-family='"Liberation Sans", sans-serif' font-weight="normal">14</text>
<line x1="468.98" y1="311.9" x2="468.98" y2="400.4" stroke="#e3e3e3" stroke-width="0.8"/>
<text x="468.98" y="409.39" font-size="7.2" fill="#707070" text-anchor="middle" font-family='"Liberation Sans", sans-serif' font-weight="normal">15</text>
<line x1="482.05" y1="311.9" x2="482.05" y2="400.4" stroke="#e3e3e3" stroke-width="0.8"/>
<text x="482.05" y="409.39" font-size="7.2" fill="#707070" text-anchor="middle" font-family='"Liberation Sans", sans-serif' font-weight="normal">16</text>
<line x1="495.12" y1="311.9" x2="495.12" y2="400.4" stroke="#e3e3e3" stroke-width="0.8"/>
<text x="495.12" y="409.39" font-size="7.2" fill="#707070" text-anchor="middle" font-family='"Liberation Sans", sans-serif' font-weight="normal">17</text>
<line x1="508.19" y1="311.9" x2="508.19" y2="400.4" stroke="#e3e3e3" stroke-width="0.8"/>
<text x="508.19" y="409.39" font-size="7.2" fill="#707070" text-anchor="middle" font-family='"Liberation Sans", sans-serif' font-weight="normal">18</text>
<line x1="521.26" y1="311.9" x2="521.26" y2="400.4" stroke="#e3e3e3" stroke-width="0.8"/>
<text x="521.26" y="409.39" font-size="7.2" fill="#707070" text-anchor="middle" font-family='"Liberation Sans", sans-serif' font-weight="normal">19</text>
<line x1="534.33" y1="311.9" x2="534.33" y2="400.4" stroke="#e3e3e3" stroke-width="0.8"/>
<text x="534.33" y="409.39" font-size="7.2" fill="#707070" text-anchor="middle" font-family='"Liberation Sans", sans-serif' font-weight="normal">20</text>
<path d="M286,377.11 C291.23,374.74 294.38,374.38 299.07,371.19 C304.84,367.26 306.91,359.33 312.14,359.33 C317.37,359.33 319.98,366.44 325.21,371.19 C330.44,375.93 332.51,379.12 338.28,383.04 C342.97,386.23 346.66,390.04 351.35,388.97 C357.12,387.66 358.65,378.42 364.42,377.11 C369.11,376.05 373.87,385.51 377.49,383.04 C384.32,378.39 384.23,362.2 390.56,359.33 C394.69,357.46 397.86,369.88 403.63,371.19 C408.32,372.25 412.01,368.45 416.7,365.26 C422.47,361.33 425.64,351.53 429.77,353.4 C436.1,356.27 435.79,370.72 442.84,377.11 C446.24,380.2 451.46,379.13 455.91,377.11 C461.92,374.39 463.21,366.56 468.98,365.26 C473.67,364.19 476.58,369.94 482.05,371.19 C487.03,372.32 490.14,372.32 495.12,371.19 C500.59,369.94 502.96,367.63 508.19,365.26 C513.42,362.89 516.03,359.33 521.26,359.33 C526.49,359.33 529.1,362.89 534.33,365.26" fill="none" stroke="rgb(16,104,194)" stroke-width="1.9"/>
<circle cx="286" cy="377.11" r="1.8" fill="rgba(0,0,0,0.1)" stroke="rgb(16,104,194)" stroke-width="1"/>
<circle cx="299.07" cy="371.19" r="1.8" fill="rgba(0,0,0,0.1)" stroke="rgb(16,104,194)" stroke-width="1"/>
<circle cx="312.14" cy="359.33" r="1.8" fill="rgba(0,0,0,0.1)" stroke="rgb(16,104,194)" stroke-width="1"/>
<circle cx="325.21" cy="371.19" r="1.8" fill="rgba(0,0,0,0.1)" stroke="rgb(16,104,194)" stroke-width="1"/>
<circle cx="338.28" cy="383.04" r="1.8" fill="rgba(0,0,0,0.1)" stroke="rgb(16,104,194)" stroke-width="1"/>
<circle cx="351.35" cy="388.97" r="1.8" fill="rgba(0,0,0,0.1)" stroke="rgb(16,104,194)" stroke-width="1"/>
<circle cx="364.42" cy="377.11" r="1.8" fill="rgba(0,0,0,0.1)" stroke="rgb(16,104,194)" stroke-width="1"/>
<circle cx="377.49" cy="383.04" r="1.8" fill="rgba(0,0,0,0.1)" stroke="rgb(16,104,194)" stroke-width="1"/>
<circle cx="390.56" cy="359.33" r="1.8" fill="rgba(0,0,0,0.1)" stroke="rgb(16,104,194)" stroke-width="1"/>
<circle cx="403.63" cy="371.19" r="1.8" fill="rgba(0,0,0,0.1)" stroke="rgb(16,104,194)" stroke-width="1"/>
<circle cx="416.7" cy="365.26" r="1.8" fill="rgba(0,0,0,0.1)" stroke="rgb(16,104,194)" stroke-width="1"/>
<circle cx="429.77" cy="353.4" r="1.8" fill="rgba(0,0,0,0.1)" stroke="rgb(16,104,194)" stroke-width="1"/>
<circle cx="442.84" cy="377.11" r="1.8" fill="rgba(0,0,0,0.1)" stroke="rgb(16,104,194)" stroke-width="1"/>
<circle cx="455.91" cy="377.11" r="1.8" fill="rgba(0,0,0,0.1)" stroke="rgb(16,104,194)" stroke-width="1"/>
<circle cx="468.98" cy="365.26" r="1.8" fill="rgba(0,0,0,0.1)" stroke="rgb(16,104,194)" stroke-width="1"/>
<circle cx="482.05" cy="371.19" r="1.8" fill="rgba(0,0,0,0.1)" stroke="rgb(16,104,194)" stroke-width="1"/>
<circle cx="495.12" cy="371.19" r="1.8" fill="rgba(0,0,0,0.1)" stroke="rgb(16,104,194)" stroke-width="1"/>
<circle cx="508.19" cy="365.26" r="1.8" fill="rgba(0,0,0,0.1)" stroke="rgb(16,104,194)" stroke-width="1"/>
<circle cx="521.26" cy="359.33" r="1.8" fill="rgba(0,0,0,0.1)" stroke="rgb(16,104,194)" stroke-width="1"/>
<circle cx="534.33" cy="365.26" r="1.8" fill="rgba(0,0,0,0.1)" stroke="rgb(16,104,194)" stroke-width="1"/>
<path d="M286,323.76 C291.23,326.13 294.38,326.49 299.07,329.69 C304.84,333.61 306.91,341.54 312.14,341.54 C317.37,341.54 319.98,334.43 325.21,329.69 C330.44,324.94 332.51,321.75 338.28,317.83 C342.97,314.64 346.66,311.9 351.35,311.9 C357.12,313.21 358.65,322.45 364.42,323.76 C369.11,324.82 373.87,315.36 377.49,317.83 C384.32,322.48 384.23,338.67 390.56,341.54 C394.69,343.41 397.86,330.99 403.63,329.69 C408.32,328.62 412.01,332.42 416.7,335.61 C422.47,339.54 425.64,349.34 429.77,347.47 C436.1,344.6 435.79,330.15 442.84,323.76 C446.24,320.67 451.46,321.74 455.91,323.76 C461.92,326.48 463.21,334.31 468.98,335.61 C473.67,336.68 476.58,330.93 482.05,329.69 C487.03,328.56 490.14,328.56 495.12,329.69 C500.59,330.93 502.96,333.24 508.19,335.61 C513.42,337.99 516.03,341.54 521.26,341.54 C526.49,341.54 529.1,337.99 534.33,335.61" fill="none" stroke="rgb(52,186,180)" stroke-width="1.9"/>
<circle cx="286" cy="323.76" r="1.8" fill="rgba(0,0,0,0.1)" stroke="rgb(52,186,180)" stroke-width="1"/>
<circle cx="299.07" cy="329.69" r="1.8" fill="rgba(0,0,0,0.1)" stroke="rgb(52,186,180)" stroke-width="1"/>
<circle cx="312.14" cy="341.54" r="1.8" fill="rgba(0,0,0,0.1)" stroke="rgb(52,186,180)" stroke-width="1"/>
<circle cx="325.21" cy="329.69" r="1.8" fill="rgba(0,0,0,0.1)" stroke="rgb(52,186,180)" stroke-width="1"/>
<circle cx="338.28" cy="317.83" r="1.8" fill="rgba(0,0,0,0.1)" stroke="rgb(52,186,180)" stroke-width="1"/>
<circle cx="351.35" cy="311.9" r="1.8" fill="rgba(0,0,0,0.1)" stroke="rgb(52,186,180)" stroke-width="1"/>
<circle cx="364.42" cy="323.76" r="1.8" fill="rgba(0,0,0,0.1)" stroke="rgb(52,186,180)" stroke-width="1"/>
<circle cx="377.49" cy="317.83" r="1.8" fill="rgba(0,0,0,0.1)" stroke="rgb(52,186,180)" stroke-width="1"/>
<circle cx="390.56" cy="341.54" r="1.8" fill="rgba(0,0,0,0.1)" stroke="rgb(52,186,180)" stroke-width="1"/>
<circle cx="403.63" cy="329.69" r="1.8" fill="rgba(0,0,0,0.1)" stroke="rgb(52,186,180)" stroke-width="1"/>
<circle cx="416.7" cy="335.61" r="1.8" fill="rgba(0,0,0,0.1)" stroke="rgb(52,186,180)" stroke-width="1"/>
<circle cx="429.77" cy="347.47" r="1.8" fill="rgba(0,0,0,0.1)" stroke="rgb(52,186,180)" stroke-width="1"/>
<circle cx="442.84" cy="323.76" r="1.8" fill="rgba(0,0,0,0.1)" stroke="rgb(52,186,180)" stroke-width="1"/>
<circle cx="455.91" cy="323.76" r="1.8" fill="rgba(0,0,0,0.1)" stroke="rgb(52,186,180)" stroke-width="1"/>
<circle cx="468.98" cy="335.61" r="1.8" fill="rgba(0,0,0,0.1)" stroke="rgb(52,186,180)" stroke-width="1"/>
<circle cx="482.05" cy="329.69" r="1.8" fill="rgba(0,0,0,0.1)" stroke="rgb(52,186,180)" stroke-width="1"/>
<circle cx="495.12" cy="329.69" r="1.8" fill="rgba(0,0,0,0.1)" stroke="rgb(52,186,180)" stroke-width="1"/>
<circle cx="508.19" cy="335.61" r="1.8" fill="rgba(0,0,0,0.1)" stroke="rgb(52,186,180)" stroke-width="1"/>
<circle cx="521.26" cy="341.54" r="1.8" fill="rgba(0,0,0,0.1)" stroke="rgb(52,186,180)" stroke-width="1"/>
<circle cx="534.33" cy="335.61" r="1.8" fill="rgba(0,0,0,0.1)" stroke="rgb(52,186,180)" stroke-width="1"/>
<text x="294.2" y="280.3" font-size="11.5" fill="#282828" text-anchor="start" font-family='"Liberation Serif", serif' font-weight="normal" textLength="199.3" lengthAdjust="spacingAndGlyphs" stroke="#282828" stroke-width="0.15">User AP assignment per state in Case 2</text>
<text x="0" y="0" font-size="11.5" fill="#000" stroke="#000" stroke-width="0.22" text-anchor="middle" font-family='"Liberation Serif", serif' textLength="78.2" lengthAdjust="spacingAndGlyphs" transform="translate(253.8,338.1) rotate(-90)">Number of users</text>
<text x="374" y="425.5" font-size="11.5" fill="#000" text-anchor="start" font-family='"Liberation Serif", serif' font-weight="normal" textLength="58.9" lengthAdjust="spacingAndGlyphs" stroke="#000" stroke-width="0.22">Time (states)</text>
<rect x="346.6" y="298.6" width="23.9" height="6.5" fill="#e6e6e6" stroke="rgb(52,186,180)" stroke-width="1.8"/>
<text x="374.6" y="304.55" font-size="7.5" fill="#707070" text-anchor="start" font-family='"Liberation Sans", sans-serif' font-weight="normal">WiFi AP</text>
<rect x="408.5" y="298.6" width="24.1" height="6.5" fill="#e6e6e6" stroke="rgb(16,104,194)" stroke-width="1.8"/>
<text x="436.9" y="304.55" font-size="7.5" fill="#707070" text-anchor="start" font-family='"Liberation Sans", sans-serif' font-weight="normal">LiFi AP</text>
<text x="8.6" y="227.7" font-size="10.8" fill="#000" text-anchor="start" font-family='"Liberation Serif", serif' font-weight="normal" textLength="210.2" lengthAdjust="spacingAndGlyphs" stroke="#000" stroke-width="0.22">(1) average data rates through all states for Case 1.</text>
<text x="283.7" y="227.8" font-size="10.8" fill="#000" text-anchor="start" font-family='"Liberation Serif", serif' font-weight="normal" textLength="213.2" lengthAdjust="spacingAndGlyphs" stroke="#000" stroke-width="0.22">(2) number of users per AP in each state for Case 1.</text>
<text x="267.7" y="241.4" font-size="11.6" fill="#000" text-anchor="start" font-family='"Liberation Serif", serif' font-weight="bold" textLength="11.6" lengthAdjust="spacingAndGlyphs" stroke="#000" stroke-width="0.15">(a)</text>
<text x="8.8" y="484.6" font-size="10.8" fill="#000" text-anchor="start" font-family='"Liberation Serif", serif' font-weight="normal" textLength="210.1" lengthAdjust="spacingAndGlyphs" stroke="#000" stroke-width="0.22">(1) average data rates through all states for Case 2.</text>
<text x="283.8" y="484.7" font-size="10.8" fill="#000" text-anchor="start" font-family='"Liberation Serif", serif' font-weight="normal" textLength="213.3" lengthAdjust="spacingAndGlyphs" stroke="#000" stroke-width="0.22">(2) number of users per AP in each state for Case 2.</text>
<text x="267.3" y="498.7" font-size="11.6" fill="#000" text-anchor="start" font-family='"Liberation Serif", serif' font-weight="bold" textLength="12.4" lengthAdjust="spacingAndGlyphs" stroke="#000" stroke-width="0.15">(b)</text>
<circle cx="137.4" cy="120.5" r="0.55" fill="#8a5a66"/>
</svg>
</body></html>
